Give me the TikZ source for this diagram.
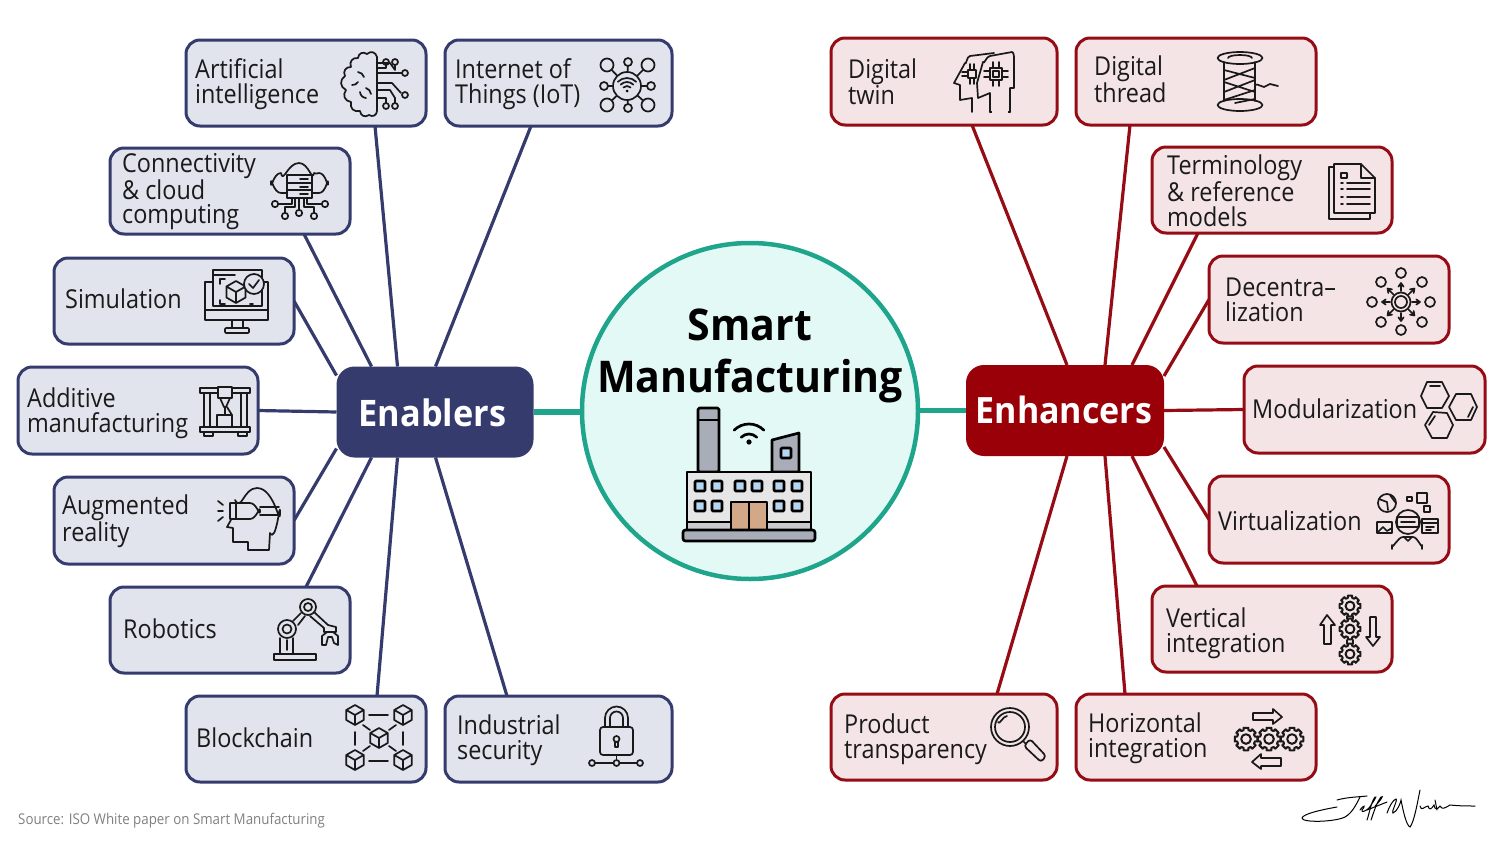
\documentclass[tikz,border=0pt]{standalone}
\usepackage{fontspec}
\setmainfont[FakeStretch=0.90,BoldFeatures={FakeStretch=0.94}]{Open Sans}
\usetikzlibrary{backgrounds,calc}
\definecolor{navy}{HTML}{363B6E}
\definecolor{navyfill}{HTML}{E1E3ED}
\definecolor{wine}{HTML}{950C15}
\definecolor{winefill}{HTML}{F4E4E6}
\definecolor{hubred}{HTML}{9A0008}
\definecolor{teal}{HTML}{1FA58C}
\definecolor{tealfill}{HTML}{E3F9F5}
\definecolor{steel}{HTML}{A9ADB7}
\definecolor{wallg}{HTML}{E6E6E6}
\definecolor{stripg}{HTML}{C8CACF}
\definecolor{glass}{HTML}{B5D5F0}
\definecolor{doorc}{HTML}{D2A888}
\definecolor{txtc}{HTML}{1A1A1A}
\tikzset{
 boxbase/.style={rectangle,rounded corners=14pt,line width=3pt,outer sep=0pt,inner sep=0pt},
 enbox/.style={boxbase,draw=navy,fill=navyfill},
 rebox/.style={boxbase,draw=wine,fill=winefill},
 lbl/.style={anchor=west,align=left,inner sep=0pt,text=txtc,font=\fontsize{26}{25}\selectfont},
 tight/.style={font=\fontsize{26}{24}\selectfont},
 enline/.style={draw=navy,line width=3.2pt},
 reline/.style={draw=wine,line width=3.2pt},
 hubline/.style={draw=teal,line width=5.5pt},
 ic/.style={draw=black!90,line width=1.7pt,line join=round,line cap=round},
 fic/.style={draw=black,line width=2.7pt,line join=round},
 soft/.style={looseness=1.4},
}
\newcommand\ibox[6]{\node[#1,minimum width={(#5-#3)*1pt},minimum height={(#6-#4)*1pt}] (#2) at ({(#3+#5)/2},{(#4+#6)/2}) {};}
\newcommand\iball[3]{\draw[ic] (#1,#2) circle (#3);}
\newcommand\iwifi[3]{\draw[ic] (#1,#2) ++(225:#3) arc[start angle=225,end angle=315,radius=#3];}
\newcommand\icube[3]{\begin{scope}[shift={(#1,#2)},scale=#3]
 \draw[ic] (0,-1)--(.87,-.5)--(.87,.5)--(0,1)--(-.87,.5)--(-.87,-.5)--cycle (-.87,-.5)--(0,0)--(.87,-.5) (0,0)--(0,1);
 \end{scope}}
\newcommand\igear[4]{\begin{scope}[shift={(#1,#2)},scale=#3]
 \draw[ic,line width=2pt,fill=#4] (-12:1) \foreach \a in {0,45,...,315} {-- (\a-12:1) -- (\a+12:1) -- (\a+15:.8) -- (\a+30:.8)} -- cycle;
 \draw[ic,line width=2pt] (0,0) circle (.42);
 \end{scope}}
\begin{document}
\begin{tikzpicture}[x=1pt,y=-1pt]
\useasboundingbox (0,0) rectangle (1500,844);
% central hub
\node[circle,draw=teal,fill=tealfill,line width=4.5pt,minimum size=336pt,outer sep=0pt,inner sep=0pt] (core) at (750,411) {};
\node[rectangle,rounded corners=18pt,fill=navy,minimum width=197pt,minimum height=91pt,outer sep=0pt,inner sep=0pt] (en) at (435,412) {};
\node[rectangle,rounded corners=18pt,fill=hubred,minimum width=198pt,minimum height=91pt,outer sep=0pt,inner sep=0pt] (eh) at (1065,410.5) {};
\node[inner sep=0pt,text=white,font=\fontsize{36.5}{36}\selectfont\bfseries] (ent) at (432.5,412.5) {Enablers};
\node[inner sep=0pt,text=white,font=\fontsize{36.2}{36}\selectfont\bfseries] (eht) at (1064,410) {Enhancers};
\node[inner sep=0pt,text=black,font=\fontsize{43.7}{52}\selectfont\bfseries,align=center] (coret) at (750,356) {Smart\\Manufacturing};
% enabler boxes
\ibox{enbox}{ai}{186}{40}{426}{126}
\ibox{enbox}{iot}{445}{40}{672}{126}
\ibox{enbox}{con}{110}{148}{350}{234}
\ibox{enbox}{sim}{54}{258}{294}{344}
\ibox{enbox}{add}{18}{367}{258}{454}
\ibox{enbox}{aug}{54}{477}{294}{564}
\ibox{enbox}{rob}{110}{587}{350}{673}
\ibox{enbox}{blk}{186}{696}{426}{782}
\ibox{enbox}{sec}{445}{696}{672}{782}
% enhancer boxes
\ibox{rebox}{twi}{831}{38}{1057}{125}
\ibox{rebox}{thr}{1076}{38}{1316}{125}
\ibox{rebox}{ter}{1152}{147}{1392}{233}
\ibox{rebox}{dec}{1209}{256}{1449}{343}
\ibox{rebox}{mod}{1244}{366}{1485}{453}
\ibox{rebox}{vir}{1209}{476}{1449}{563}
\ibox{rebox}{ver}{1152}{586}{1392}{672}
\ibox{rebox}{pro}{831}{694}{1057}{780}
\ibox{rebox}{hor}{1076}{694}{1316}{780}
% connectors
\begin{scope}[on background layer]
\draw[hubline] (en.east) -- (en.east -| core.west);
\draw[hubline] (eh.west) -- (eh.west -| core.east);
\draw[enline] ([xshift=189pt]ai.south west) -- ([xshift=61pt]en.north west);
\draw[enline] ([xshift=86pt]iot.south west) -- ([xshift=99pt]en.north west);
\draw[enline] ([xshift=194pt]con.south west) -- ([xshift=35pt]en.north west);
\draw[enline] (sim.east) -- ([yshift=-9pt]en.north west);
\draw[enline] (add.east) -- (en.west);
\draw[enline] (aug.east) -- ([yshift=9pt]en.south west);
\draw[enline] ([xshift=196pt]rob.north west) -- ([xshift=35pt]en.south west);
\draw[enline] ([xshift=191pt]blk.north west) -- ([xshift=61pt]en.south west);
\draw[enline] ([xshift=62pt]sec.north west) -- ([xshift=99pt]en.south west);
\draw[reline] ([xshift=141pt]twi.south west) -- ([xshift=101pt]eh.north west);
\draw[reline] ([xshift=54pt]thr.south west) -- ([xshift=139pt]eh.north west);
\draw[reline] ([xshift=46pt]ter.south west) -- ([xshift=166pt]eh.north west);
\draw[reline] (dec.west) -- ([yshift=-11pt]eh.north east);
\draw[reline] (mod.west) -- (eh.east);
\draw[reline] (vir.west) -- ([yshift=9pt]eh.south east);
\draw[reline] ([xshift=45pt]ver.north west) -- ([xshift=166pt]eh.south west);
\draw[reline] ([xshift=166pt]pro.north west) -- ([xshift=101pt]eh.south west);
\draw[reline] ([xshift=49pt]hor.north west) -- ([xshift=139pt]eh.south west);
\end{scope}
% labels
\node[lbl] (t1) at (195,84) {Artificial\\intelligence};
\node[lbl] (t2) at (455,84) {Internet of\\Things (IoT)};
\node[lbl,tight] (t3) at (122,191.5) {Connectivity\\\& cloud\\computing};
\node[lbl] (t4) at (65,299) {Simulation};
\node[lbl] (t5) at (27,413) {Additive\\manufacturing};
\node[lbl] (t6) at (62,521.5) {Augmented\\reality};
\node[lbl] (t7) at (123,629) {Robotics};
\node[lbl] (t8) at (196,738) {Blockchain};
\node[lbl] (t9) at (457,740) {Industrial\\security};
\node[lbl] (r1) at (848,82) {Digital\\twin};
\node[lbl,tight] (r2) at (1094,79) {Digital\\thread};
\node[lbl] (r3) at (1167,191) {Terminology\\\& reference\\models};
\node[lbl] (r4) at (1225,300) {Decentra–\\lization};
\node[lbl] (r5) at (1252,409) {Modularization};
\node[lbl] (r6) at (1218,521) {Virtualization};
\node[lbl] (r7) at (1166,633) {Vertical\\integration};
\node[lbl] (r8) at (844,739) {Product\\transparency};
\node[lbl] (r9) at (1088,738) {Horizontal\\integration};
\node[anchor=west,inner sep=0pt,text=black!50,font=\fontsize{14.8}{16}\selectfont] (src) at (18,820.5) {Source: ISO White paper on Smart Manufacturing};
% factory
\draw[fic,fill=steel,rounded corners=1.5pt] (698,472) -- (698,408) -- (719,408) -- (719,472) -- cycle;
\draw[fic] (698,420) -- (719,420);
\draw[fic,fill=steel] (772,472) -- (772,440) -- (799,433) -- (799,472) -- cycle;
\draw[fic,fill=glass,rounded corners=1pt] (781,448) rectangle (791,458);
\fill (749,442) circle (2.6);
\draw[fic,line cap=round] (749,445) ++(225:11) arc[start angle=225,end angle=315,radius=11];
\draw[fic,line cap=round] (749,445) ++(225:21) arc[start angle=225,end angle=315,radius=21];
\draw[fic,fill=wallg] (687,472) rectangle (811,530);
\draw[fic,fill=stripg] (687,522) rectangle (811,530);
\foreach \wx in {700,717,740,757,779,797} {\draw[fic,fill=glass,rounded corners=1pt] (\wx-5,481) rectangle (\wx+5,491);}
\foreach \wx in {700,717,779,797} {\draw[fic,fill=glass,rounded corners=1pt] (\wx-5,501) rectangle (\wx+5,511);}
\draw[fic,fill=doorc] (731,502) rectangle (767,530);
\draw[fic] (749,502) -- (749,530);
\draw[fic,fill=steel,rounded corners=2.5pt] (683,530) rectangle (815,541);
% AI brain
\draw[ic,looseness=1.25] (377,57) to[bend right=60] (367,54) to[bend right=60] (358,58) to[bend right=60] (351,67) to[bend right=60] (345,76) to[bend right=60] (346,90) to[bend right=60] (351,102) to[bend right=60] (360,111) to[bend right=60] (369,115) to[bend right=60] (377,111) -- cycle;
\draw[ic] (358,72) to[bend left=30] (364,77) (352,85) to[bend right=30] (358,82) (360,92) to[bend right=40] (366,98) (366,88) to[bend left=30] (371,94);
\draw[ic] (377,68) -- (386,68) -- (386,65) (377,63) -- (390,63) -- (395,70) -- (395,65) (377,73) -- (392,73) -- (402,73) (377,83) -- (392,83) -- (401,93) (377,98) -- (386,98) -- (386,103) (377,90) -- (390,90) -- (395,98) -- (395,103);
\iball{386}{62}{3}\iball{395}{62}{3}\iball{405}{73}{3}\iball{405}{95}{3}\iball{386}{106}{3}\iball{395}{106}{3}
% IoT
\foreach \px/\py/\pr in {607/65/6.5,648/65/6.5,607/105/6.5,648/105/6.5,628/62/4,628/108/4,604/86/4,651/86/4}{
 \draw[ic] (627,86) -- (\px,\py);
 \draw[ic,fill=navyfill] (\px,\py) circle (\pr);}
\draw[ic,fill=navyfill] (627,86) circle (14);
\iwifi{627}{91}{5}\iwifi{627}{91}{9}\iwifi{627}{91}{13}
\fill (627,91) circle (1.5);
% cloud
\draw[ic,soft] (287,193) -- (281,193) to[out=180,in=90] (271,183) to[out=-90,in=180] (281,173) to[out=-80,in=180] (299,163) to[out=0,in=-100] (314,173) to[out=-40,in=180] (319,173) to[out=0,in=-90] (328,183) to[out=90,in=0] (319,193) -- (312,193);
\draw[ic,fill=navyfill] (287,175) rectangle (312,198);
\draw[ic] (287,183) -- (312,183) (287,190) -- (312,190) (300,179) -- (308,179) (300,187) -- (308,187) (300,194) -- (308,194);
\draw[ic] (292,198) -- (292,204) -- (279,204) (307,198) -- (307,204) -- (321,204) (295,198) -- (295,207) -- (285,207) -- (285,212) (299,198) -- (299,209) (304,198) -- (304,207) -- (314,207) -- (314,212);
\iball{275}{204}{3.2}\iball{325}{204}{3.2}\iball{285}{216}{3.2}\iball{299}{213}{3.2}\iball{314}{216}{3.2}
% simulation
\draw[ic] (213,282) -- (205,282) -- (205,320) -- (268,320) -- (268,282) -- (262,282);
\draw[ic] (205,310) -- (268,310);
\draw[ic] (213,306) -- (213,270) -- (262,270) -- (262,306) -- cycle;
\draw[ic] (213,275) -- (235,275);
\draw[ic] (232,320) -- (232,328) (243,320) -- (243,328);
\draw[ic,rounded corners=1pt] (225,328) rectangle (249,333);
\icube{236}{292}{11}
\draw[ic] (220,284) -- (220,279) -- (225,279) (220,300) -- (220,304) -- (225,304) (253,304) -- (250,304);
\draw[ic,fill=navyfill] (254,284) circle (10);
\draw[ic] (249,284) -- (253,288) -- (259,280);
% additive
\draw[ic] (200,388) rectangle (250,393);
\draw[ic] (204,393) -- (204,427) (210,393) -- (210,427) (241,393) -- (241,427) (247,393) -- (247,427);
\draw[ic] (200,427) rectangle (250,432);
\draw[ic] (204,432) rectangle (213,436) (238,432) rectangle (247,436);
\draw[ic,fill=navyfill] (218,387) rectangle (232,398);
\draw[ic,fill=navyfill] (220,398) -- (230,398) -- (226,407) -- (224,407) -- cycle;
\draw[ic] (225,407) -- (225,415) (227,407) -- (232,415);
\draw[ic] (217,427) -- (217,415) -- (232,415) -- (232,427);
% augmented
\draw[ic,soft] (235,500) to[out=-60,in=180] (257,488) to[out=0,in=-90] (280,512) to[out=90,in=-60] (270,533) -- (269,550) -- (248,550) -- (248,542) -- (233,542) -- (233,528) -- (227,527) -- (232,518);
\draw[ic,fill=navyfill,soft] (230,503) -- (250,503) to[out=0,in=-90] (260,511) to[out=90,in=0] (250,519) -- (230,519) -- cycle;
\draw[ic] (236,503) -- (236,519);
\draw[ic] (260,507) -- (279,507) (260,515) -- (278,515);
\draw[ic] (218,501) -- (223,505) (218,511) -- (223,511) (218,521) -- (223,517);
% robotics
\draw[ic] (274,654) rectangle (316,660);
\draw[ic] (280,654) -- (280,638) (293,654) -- (293,638) (287,640) -- (287,650);
\draw[ic] (287,629) circle (9) (287,629) circle (4.5);
\draw[ic] (308,607) circle (8) (308,607) circle (4);
\draw[ic] (293,621) -- (301,613) (298,625) -- (305,616);
\draw[ic] (314,612) -- (328,625) (310,616) -- (324,628);
\draw[ic] (324,628) -- (324,632) -- (336,632) -- (336,627) -- (328,625);
\draw[ic] (322,645) -- (322,636) -- (327,632) -- (333,632) -- (338,636) -- (338,645) -- (334,643) -- (332,637) -- (328,637) -- (326,645) -- cycle;
% blockchain
\icube{355}{715}{10}\icube{403}{715}{10}\icube{379}{738}{10}\icube{355}{760}{10}\icube{403}{760}{10}
\draw[ic] (369,715) -- (388,715) (369,761) -- (388,761) (355,732) -- (355,745) (403,732) -- (403,745) (363,725) -- (370,730) (396,725) -- (389,730) (363,751) -- (370,746) (396,751) -- (389,746);
% security
\draw[ic,rounded corners=3pt] (600,727) rectangle (633,755);
\draw[ic] (605,727) -- (605,718) arc[start angle=180,end angle=360,radius=11.5] -- (628,727);
\draw[ic] (610,727) -- (610,718) arc[start angle=180,end angle=360,radius=6.5] -- (623,727);
\draw[ic] (616.5,739) circle (3) (615,742) -- (615,747) -- (618,747) -- (618,742);
\draw[ic] (616.5,755) -- (616.5,760) (595,763) -- (613,763) (620,763) -- (637,763);
\iball{592}{763}{3}\iball{616.5}{763}{3}\iball{640}{763}{3}
% digital twin
\draw[ic] (994,53) -- (970,56) to[out=180,in=-70] (965,63) -- (954,83) -- (960,85) -- (960,100) -- (972,98) -- (972,112);
\draw[ic,fill=winefill] (1012,52) -- (990,56) to[out=180,in=-75] (983,62) -- (977,83) -- (978,98) -- (990,93) -- (990,112) -- (1010,112) -- (1010,88) -- (1014,88) -- (1014,56) to[out=-90,in=0] cycle;
\draw[draw=winefill,line width=3pt] (992,112) -- (1008,112);
\draw[ic] (990,112) -- (990,108) (1010,112) -- (1010,108);
\draw[ic] (990,68) rectangle (1002,80) (993,71) rectangle (999,77);
\draw[ic] (993,62) -- (993,68) (999,62) -- (999,68) (993,80) -- (993,86) (999,80) -- (999,86) (984,71) -- (990,71) (984,77) -- (990,77) (1002,71) -- (1008,71) (1002,77) -- (1008,77);
\draw[ic] (968,70) rectangle (976,78);
\draw[ic] (970,64) -- (970,70) (974,64) -- (974,70) (970,78) -- (970,84) (974,78) -- (974,84) (962,72) -- (968,72) (962,76) -- (968,76);
% digital thread
\draw[ic] (1240,105) ellipse (22.5 and 6) (1240,58) ellipse (22.5 and 6);
\draw[ic] (1224,62) -- (1224,101) (1255,62) -- (1255,101);
\draw[ic] (1228,58) arc[start angle=180,end angle=360,x radius=12,y radius=3];
\draw[ic] (1224,70) -- (1255,78) (1224,80) -- (1255,68) (1224,82) -- (1255,92) (1224,92) -- (1255,80) (1224,100) -- (1255,90) (1235,103) -- (1255,99);
\draw[ic] (1255,85) to[out=30,in=180] (1264,87) to[out=0,in=180] (1270,84) to[out=0,in=180] (1278,86);
% terminology
\draw[ic] (1334,167) -- (1329,167) -- (1329,219) -- (1370,219) -- (1370,213);
\draw[ic,fill=winefill] (1334,164) -- (1361,164) -- (1375,178) -- (1375,213) -- (1334,213) -- cycle;
\draw[ic] (1361,164) -- (1361,178) -- (1375,178);
\draw[ic] (1341,173) rectangle (1347,178);
\foreach \ly in {183,189,197,204} {\draw[ic] (1341,\ly) -- (1343,\ly) (1347,\ly) -- (1370,\ly);}
% decentralization
\draw[ic] (1401,302) circle (6);
\draw[ic] (1401,302) circle (9.5);
\foreach \a in {0,45,...,315} {\draw[ic] (1401,302) ++(\a:11) -- ++(\a:8) ++(\a+145:4.5) -- ++(\a-35:4.5) -- ++(\a-145:4.5);}
\iball{1401}{273}{5}\iball{1372}{302}{5}\iball{1430}{302}{5}\iball{1401}{330}{5}\iball{1381}{282}{5}\iball{1422}{282}{5}\iball{1381}{322}{5}\iball{1422}{322}{5}
% modularization
\draw[ic] (1421,396) -- (1427,382) -- (1442,382) -- (1449,396) -- (1442,408) -- (1427,408) -- cycle (1430,386) -- (1440,386);
\draw[ic] (1449,407) -- (1456,394) -- (1471,394) -- (1477,407) -- (1471,420) -- (1456,420) -- cycle (1473,407) -- (1468,417);
\draw[ic] (1425,425) -- (1433,412) -- (1447,413) -- (1453,425) -- (1447,438) -- (1432,438) -- cycle (1429,425) -- (1435,416);
% virtualization
\draw[ic] (1387,503) circle (9);
\draw[ic] (1379,499) to[out=0,in=180] (1387,502) -- (1388,510) (1390,495) -- (1395,502);
\draw[ic] (1407,497) rectangle (1412,501) (1417,493) rectangle (1427,503) (1424,506) rectangle (1430,512);
\draw[ic] (1377,522) rectangle (1392,533) (1378,532) -- (1383,527) -- (1387,531) -- (1392,528);
\draw[ic] (1422,519) rectangle (1438,533) (1422,523) -- (1438,523) (1426,527) -- (1434,527) (1426,530) -- (1431,530);
\draw[ic] (1408,522) circle (12);
\draw[ic,fill=winefill,rounded corners=2pt] (1397,517) rectangle (1419,527);
\draw[ic] (1401,522) -- (1415,522);
\draw[ic] (1392,549) -- (1392,545) to[out=-90,in=180] (1403,537) -- (1413,537) to[out=0,in=-90] (1422,545) -- (1422,549);
\draw[ic] (1404,537) -- (1408,541) -- (1412,537);
% vertical integration
\igear{1350}{606}{10.5}{winefill}\igear{1350}{654}{10.5}{winefill}
\draw[ic] (1347,616) -- (1347,619) (1353,616) -- (1353,619) (1347,640) -- (1347,644) (1353,640) -- (1353,644);
\igear{1350}{629}{10.5}{winefill}
\draw[ic] (1324,644) -- (1324,625) -- (1320,625) -- (1327,615) -- (1335,625) -- (1331,625) -- (1331,644) -- cycle;
\draw[ic] (1370,617) -- (1370,637) -- (1366,637) -- (1373,646) -- (1380,637) -- (1376,637) -- (1376,617) -- cycle;
% product transparency
\draw[ic] (1010,727) circle (19) (1010,727) circle (15);
\draw[ic] (998,722) to[out=-75,in=180] (1007,716);
\draw[ic] (1023,741) -- (1026,744);
\draw[ic,rounded corners=3pt] (1030,739) -- (1046,756) -- (1041,762) -- (1024,746) -- cycle;
% horizontal integration
\igear{1246}{739}{11.5}{winefill}\igear{1292}{739}{11.5}{winefill}\igear{1269}{739}{11.5}{winefill}
\draw[ic] (1253,713) -- (1273,713) -- (1273,709) -- (1282,717) -- (1273,724) -- (1273,720) -- (1253,720) -- cycle;
\draw[ic] (1281,758) -- (1261,758) -- (1261,754) -- (1252,762) -- (1261,769) -- (1261,766) -- (1281,766) -- cycle;
% signature
\begin{scope}[line width=1pt,line cap=round,draw=black]
\draw (1337,807) .. controls (1320,810) and (1303,814) .. (1302,818) .. controls (1302,823) and (1335,822) .. (1345,817) .. controls (1352,813) and (1356,805) .. (1360,797);
\draw (1337,800) .. controls (1348,797) and (1358,797) .. (1367,796);
\draw (1360,810) .. controls (1364,804) and (1366,806) .. (1362,810) .. controls (1361,813) and (1366,811) .. (1369,808);
\draw (1369,808) .. controls (1373,802) and (1378,795) .. (1375,797) .. controls (1371,802) and (1369,815) .. (1367,820);
\draw (1375,806) .. controls (1381,800) and (1384,795) .. (1381,797) .. controls (1376,803) and (1373,815) .. (1371,820);
\draw (1367,810) -- (1387,802);
\draw (1387,813) .. controls (1390,805) and (1393,800) .. (1396,799) .. controls (1398,800) and (1391,812) .. (1393,813) .. controls (1397,812) and (1401,802) .. (1401,800) .. controls (1403,810) and (1406,825) .. (1410,827) .. controls (1414,822) and (1417,805) .. (1420,790);
\draw (1420,806) .. controls (1421,812) and (1425,806) .. (1428,806) .. controls (1429,810) and (1431,810) .. (1434,805) .. controls (1435,810) and (1437,810) .. (1440,806) .. controls (1442,810) and (1445,808) .. (1450,805) .. controls (1460,806) and (1468,806) .. (1475,806);
\draw (1435,800) -- (1437,810);
\end{scope}
\end{tikzpicture}
\end{document}
